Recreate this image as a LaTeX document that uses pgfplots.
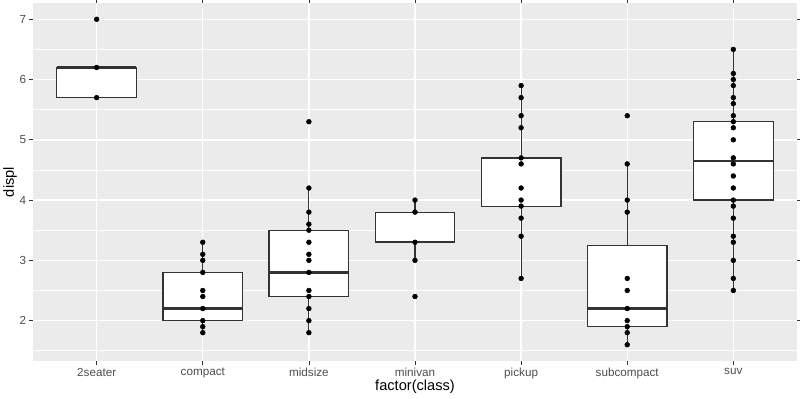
\documentclass[border=0pt]{standalone}
\usepackage{pgfplots}
\pgfplotsset{compat=1.18}
\usepgfplotslibrary{statistics}
\usepackage{fontspec}
\setmainfont{Liberation Sans}
\definecolor{panelbg}{HTML}{EBEBEB}
\definecolor{boxline}{HTML}{333333}
\definecolor{ticktext}{HTML}{4D4D4D}
\begin{document}
\begin{tikzpicture}
\path[use as bounding box] (-24.75bp,-28.5bp) rectangle (575.25bp,270.75bp);
\begin{axis}[
  scale only axis,
  width=573bp, height=268.5bp,
  xmin=0.4, xmax=7.6, ymin=1.33, ymax=7.27,
  axis background/.style={fill=panelbg},
  axis line style={draw=none},
  xtick={1,2,3,4,5,6,7},
  xticklabels={2seater,compact,midsize,minivan,pickup,subcompact,suv},
  ytick={2,3,4,5,6,7},
  minor ytick={1.5,2.5,3.5,4.5,5.5,6.5},
  xmajorgrids, ymajorgrids, yminorgrids,
  major grid style={white, line width=1.07pt},
  minor grid style={white, line width=0.53pt},
  tick align=outside,
  major tick length=2.75pt,
  minor tick length=0pt,
  tick style={boxline, line width=0.53pt},
  x tick label style={font=\fontsize{8.8}{10}\selectfont, color=ticktext, inner sep=0pt, yshift=-2.6pt, anchor=north},
  y tick label style={font=\fontsize{8.8}{10}\selectfont, color=ticktext, inner sep=0pt, xshift=-2.2pt, anchor=east},
  /pgf/number format/assume math mode=true,
  xlabel={factor(class)},
  ylabel={displ},
  every axis x label/.style={at={(axis description cs:0.5,-0.0726)}, anchor=center, font=\fontsize{11}{13}\selectfont},
  every axis y label/.style={at={(axis description cs:-0.0301,0.5)}, rotate=90, anchor=center, font=\fontsize{11}{13}\selectfont},
  boxplot/draw direction=y,
  boxplot/box extend=0.75,
  boxplot/whisker extend=0,
  boxplot/every median/.style={line width=1.7pt},
  clip=false,
]
\addplot[boxplot prepared={lower whisker=5.7, lower quartile=5.7, median=6.2, upper quartile=6.2, upper whisker=6.2, draw position=1}, draw=boxline, fill=white, line width=0.9pt] coordinates {};
\addplot[boxplot prepared={lower whisker=1.8, lower quartile=2.0, median=2.2, upper quartile=2.8, upper whisker=3.3, draw position=2}, draw=boxline, fill=white, line width=0.9pt] coordinates {};
\addplot[boxplot prepared={lower whisker=1.8, lower quartile=2.4, median=2.8, upper quartile=3.5, upper whisker=4.2, draw position=3}, draw=boxline, fill=white, line width=0.9pt] coordinates {};
\addplot[boxplot prepared={lower whisker=3.0, lower quartile=3.3, median=3.3, upper quartile=3.8, upper whisker=4.0, draw position=4}, draw=boxline, fill=white, line width=0.9pt] coordinates {};
\addplot[boxplot prepared={lower whisker=2.7, lower quartile=3.9, median=4.7, upper quartile=4.7, upper whisker=5.9, draw position=5}, draw=boxline, fill=white, line width=0.9pt] coordinates {};
\addplot[boxplot prepared={lower whisker=1.6, lower quartile=1.9, median=2.2, upper quartile=3.25, upper whisker=4.6, draw position=6}, draw=boxline, fill=white, line width=0.9pt] coordinates {};
\addplot[boxplot prepared={lower whisker=2.5, lower quartile=4.0, median=4.65, upper quartile=5.3, upper whisker=6.5, draw position=7}, draw=boxline, fill=white, line width=0.9pt] coordinates {};
\addplot[only marks, mark=*, mark size=1.8pt, black] coordinates {
(1,5.7) (1,6.2) (1,7.0)
(2,1.8) (2,1.9) (2,2.0) (2,2.2) (2,2.4) (2,2.5) (2,2.8) (2,3.0) (2,3.1) (2,3.3)
(3,1.8) (3,2.0) (3,2.2) (3,2.4) (3,2.5) (3,2.8) (3,3.0) (3,3.1) (3,3.3) (3,3.5) (3,3.6) (3,3.8) (3,4.2) (3,5.3)
(4,2.4) (4,3.0) (4,3.3) (4,3.8) (4,4.0)
(5,2.7) (5,3.4) (5,3.7) (5,3.9) (5,4.0) (5,4.2) (5,4.6) (5,4.7) (5,5.2) (5,5.4) (5,5.7) (5,5.9)
(6,1.6) (6,1.8) (6,1.9) (6,2.0) (6,2.2) (6,2.5) (6,2.7) (6,3.8) (6,4.0) (6,4.6) (6,5.4)
(7,2.5) (7,2.7) (7,3.0) (7,3.3) (7,3.4) (7,3.7) (7,3.9) (7,4.0) (7,4.2) (7,4.4) (7,4.6) (7,4.7) (7,5.0) (7,5.2) (7,5.3) (7,5.4) (7,5.6) (7,5.7) (7,5.9) (7,6.0) (7,6.1) (7,6.5)
};
\end{axis}
\end{tikzpicture}
\end{document}
